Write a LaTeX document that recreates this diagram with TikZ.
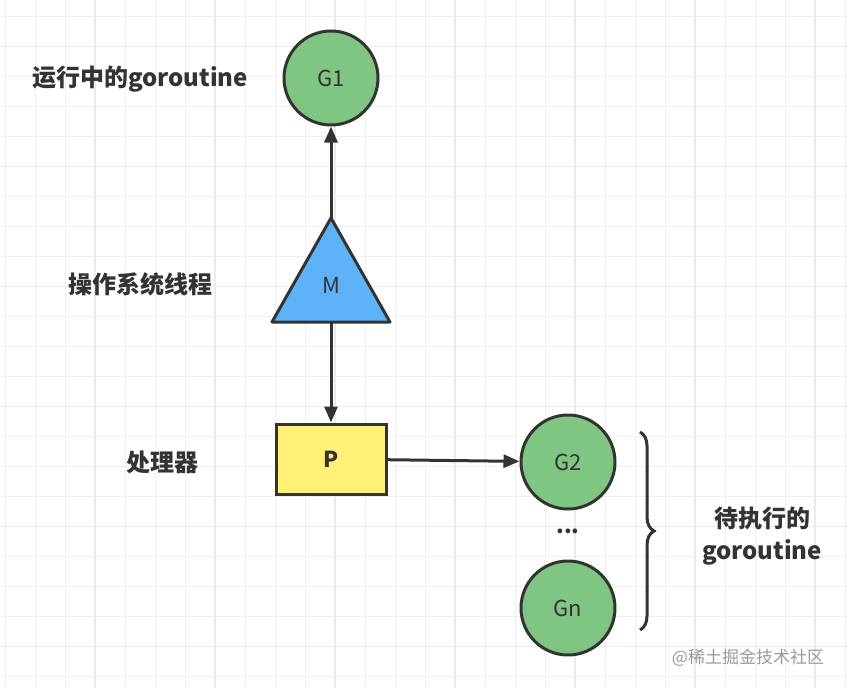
\documentclass[tikz,border=0pt]{standalone}
\usepackage{fontspec}
\setmainfont{Noto Sans CJK SC}
\usetikzlibrary{arrows.meta,shapes.geometric,decorations.pathreplacing}
\definecolor{gfill}{HTML}{7FC683}
\definecolor{mfill}{HTML}{5EB2F7}
\definecolor{pfill}{HTML}{FFF176}
\definecolor{edge}{HTML}{333333}
\begin{document}
\begin{tikzpicture}[x=1pt,y=-1pt,
  g/.style={circle,draw=edge,line width=3pt,fill=gfill,minimum size=94pt,inner sep=0pt,font=\fontsize{22}{22}\selectfont,text=edge},
  lab/.style={font=\bfseries\fontsize{24}{32}\selectfont,text=edge,align=center},
  arr/.style={draw=edge,line width=3pt,-{Triangle[length=16pt,width=13pt]}}]
\useasboundingbox (0,0) rectangle (848,688);
\fill[white] (0,0) rectangle (848,688);
\foreach \x in {5,35,...,845} \draw[black!6,line width=1pt] (\x,0) -- (\x,688);
\foreach \y in {16.7,46.7,...,688} \draw[black!6,line width=1pt] (0,\y) -- (848,\y);
\foreach \x in {95,215,...,845} \draw[black!8,line width=1.5pt] (\x,0) -- (\x,688);
\foreach \y in {46.7,166.7,...,688} \draw[black!8,line width=1.5pt] (0,\y) -- (848,\y);
\node[g] (g1) at (331,78) {G1};
\node[g] (g2) at (568,462) {G2};
\node[g] (gn) at (568,608) {Gn};
\coordinate (mt) at (331,218);
\coordinate (mb) at (331,322);
\draw[draw=edge,line width=3pt,fill=mfill,line join=round] (331,218) -- (390,322) -- (272,322) -- cycle;
\node[font=\fontsize{22}{22}\selectfont,text=edge] (m) at (331,285) {M};
\node[draw=edge,line width=3pt,fill=pfill,minimum width=110pt,minimum height=70pt,font=\bfseries\fontsize{22}{22}\selectfont,text=edge] (p) at (331,459) {P};
\draw[arr] (mt) -- (g1);
\draw[arr] (mb) -- (p);
\draw[arr] (p) -- (g2);
\node[font=\bfseries\fontsize{22}{22}\selectfont,text=edge] (dots) at (568,531) {...};
\node[lab] (l1) at (140,79) {运行中的goroutine};
\node[lab] (l2) at (140,284) {操作系统线程};
\node[lab] (l3) at (162,462) {处理器};
\coordinate (b1) at (640,432);
\coordinate (b2) at (640,630);
\draw[draw=edge,line width=3pt,decorate,decoration={brace,amplitude=14pt}] (b1) -- (b2);
\node[lab] (l4) at (762,536) {待执行的\\goroutine};
\node[font=\fontsize{17}{18}\selectfont,text=black!40] (wm) at (748,658) {@稀土掘金技术社区};
\end{tikzpicture}
\end{document}
